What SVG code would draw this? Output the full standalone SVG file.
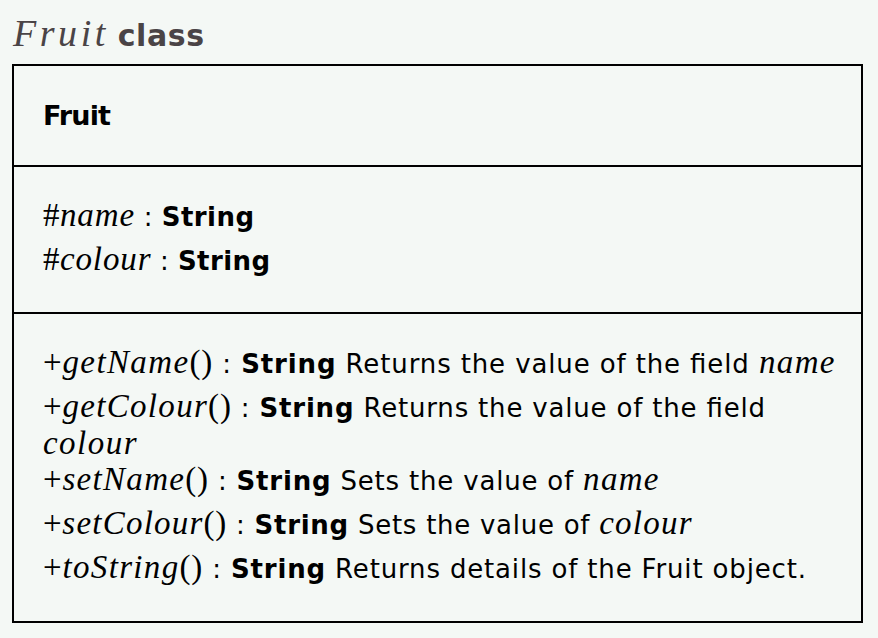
<svg xmlns="http://www.w3.org/2000/svg" width="878" height="638" viewBox="0 0 878 638">
<style>
.bg{fill:#f4f8f5}
.box{fill:none;stroke:#000;stroke-width:2}
.sans{font-family:"DejaVu Sans","Liberation Sans",sans-serif;font-size:26px;fill:#000}
.b{font-weight:bold;font-size:26px}
.m{font-family:"Liberation Serif",serif;font-size:33px}
.i{font-style:italic;letter-spacing:0.5px}
.title{fill:#4a4446}
</style>
<rect class="bg" x="0" y="0" width="878" height="638"/>
<g id="title">
<text class="sans title" x="13" y="46" textLength="191" lengthAdjust="spacing"><tspan class="m i" style="font-size:38px;letter-spacing:3px">Fruit</tspan> <tspan class="b" style="font-size:30px">class</tspan></text>
</g>
<g id="fruit-class">
<rect class="box" x="13" y="65" width="849" height="557"/>
<line class="box" x1="13" y1="166" x2="862" y2="166"/>
<line class="box" x1="13" y1="313" x2="862" y2="313"/>
<text class="sans b" x="43" y="125" style="font-size:27px" textLength="68" lengthAdjust="spacing">Fruit</text>
<text class="sans" x="43" y="226" textLength="211" lengthAdjust="spacing"><tspan class="m">#</tspan><tspan class="m i">name</tspan> : <tspan class="b">String</tspan></text>
<text class="sans" x="43" y="270" textLength="227" lengthAdjust="spacing"><tspan class="m">#</tspan><tspan class="m i">colour</tspan> : <tspan class="b">String</tspan></text>
<text class="sans" x="43" y="373" textLength="792" lengthAdjust="spacing"><tspan class="m">+</tspan><tspan class="m i">getName</tspan><tspan class="m">()</tspan> : <tspan class="b">String</tspan> Returns the value of the field <tspan class="m i">name</tspan></text>
<text class="sans" x="43" y="417" textLength="722" lengthAdjust="spacing"><tspan class="m">+</tspan><tspan class="m i">getColour</tspan><tspan class="m">()</tspan> : <tspan class="b">String</tspan> Returns the value of the field</text>
<text class="sans" x="43" y="454" textLength="94" lengthAdjust="spacing"><tspan class="m i">colour</tspan></text>
<text class="sans" x="43" y="490" textLength="616" lengthAdjust="spacing"><tspan class="m">+</tspan><tspan class="m i">setName</tspan><tspan class="m">()</tspan> : <tspan class="b">String</tspan> Sets the value of <tspan class="m i">name</tspan></text>
<text class="sans" x="43" y="534" textLength="649" lengthAdjust="spacing"><tspan class="m">+</tspan><tspan class="m i">setColour</tspan><tspan class="m">()</tspan> : <tspan class="b">String</tspan> Sets the value of <tspan class="m i">colour</tspan></text>
<text class="sans" x="43" y="578" textLength="763" lengthAdjust="spacing"><tspan class="m">+</tspan><tspan class="m i">toString</tspan><tspan class="m">()</tspan> : <tspan class="b">String</tspan> Returns details of the Fruit object.</text>
</g>
</svg>
